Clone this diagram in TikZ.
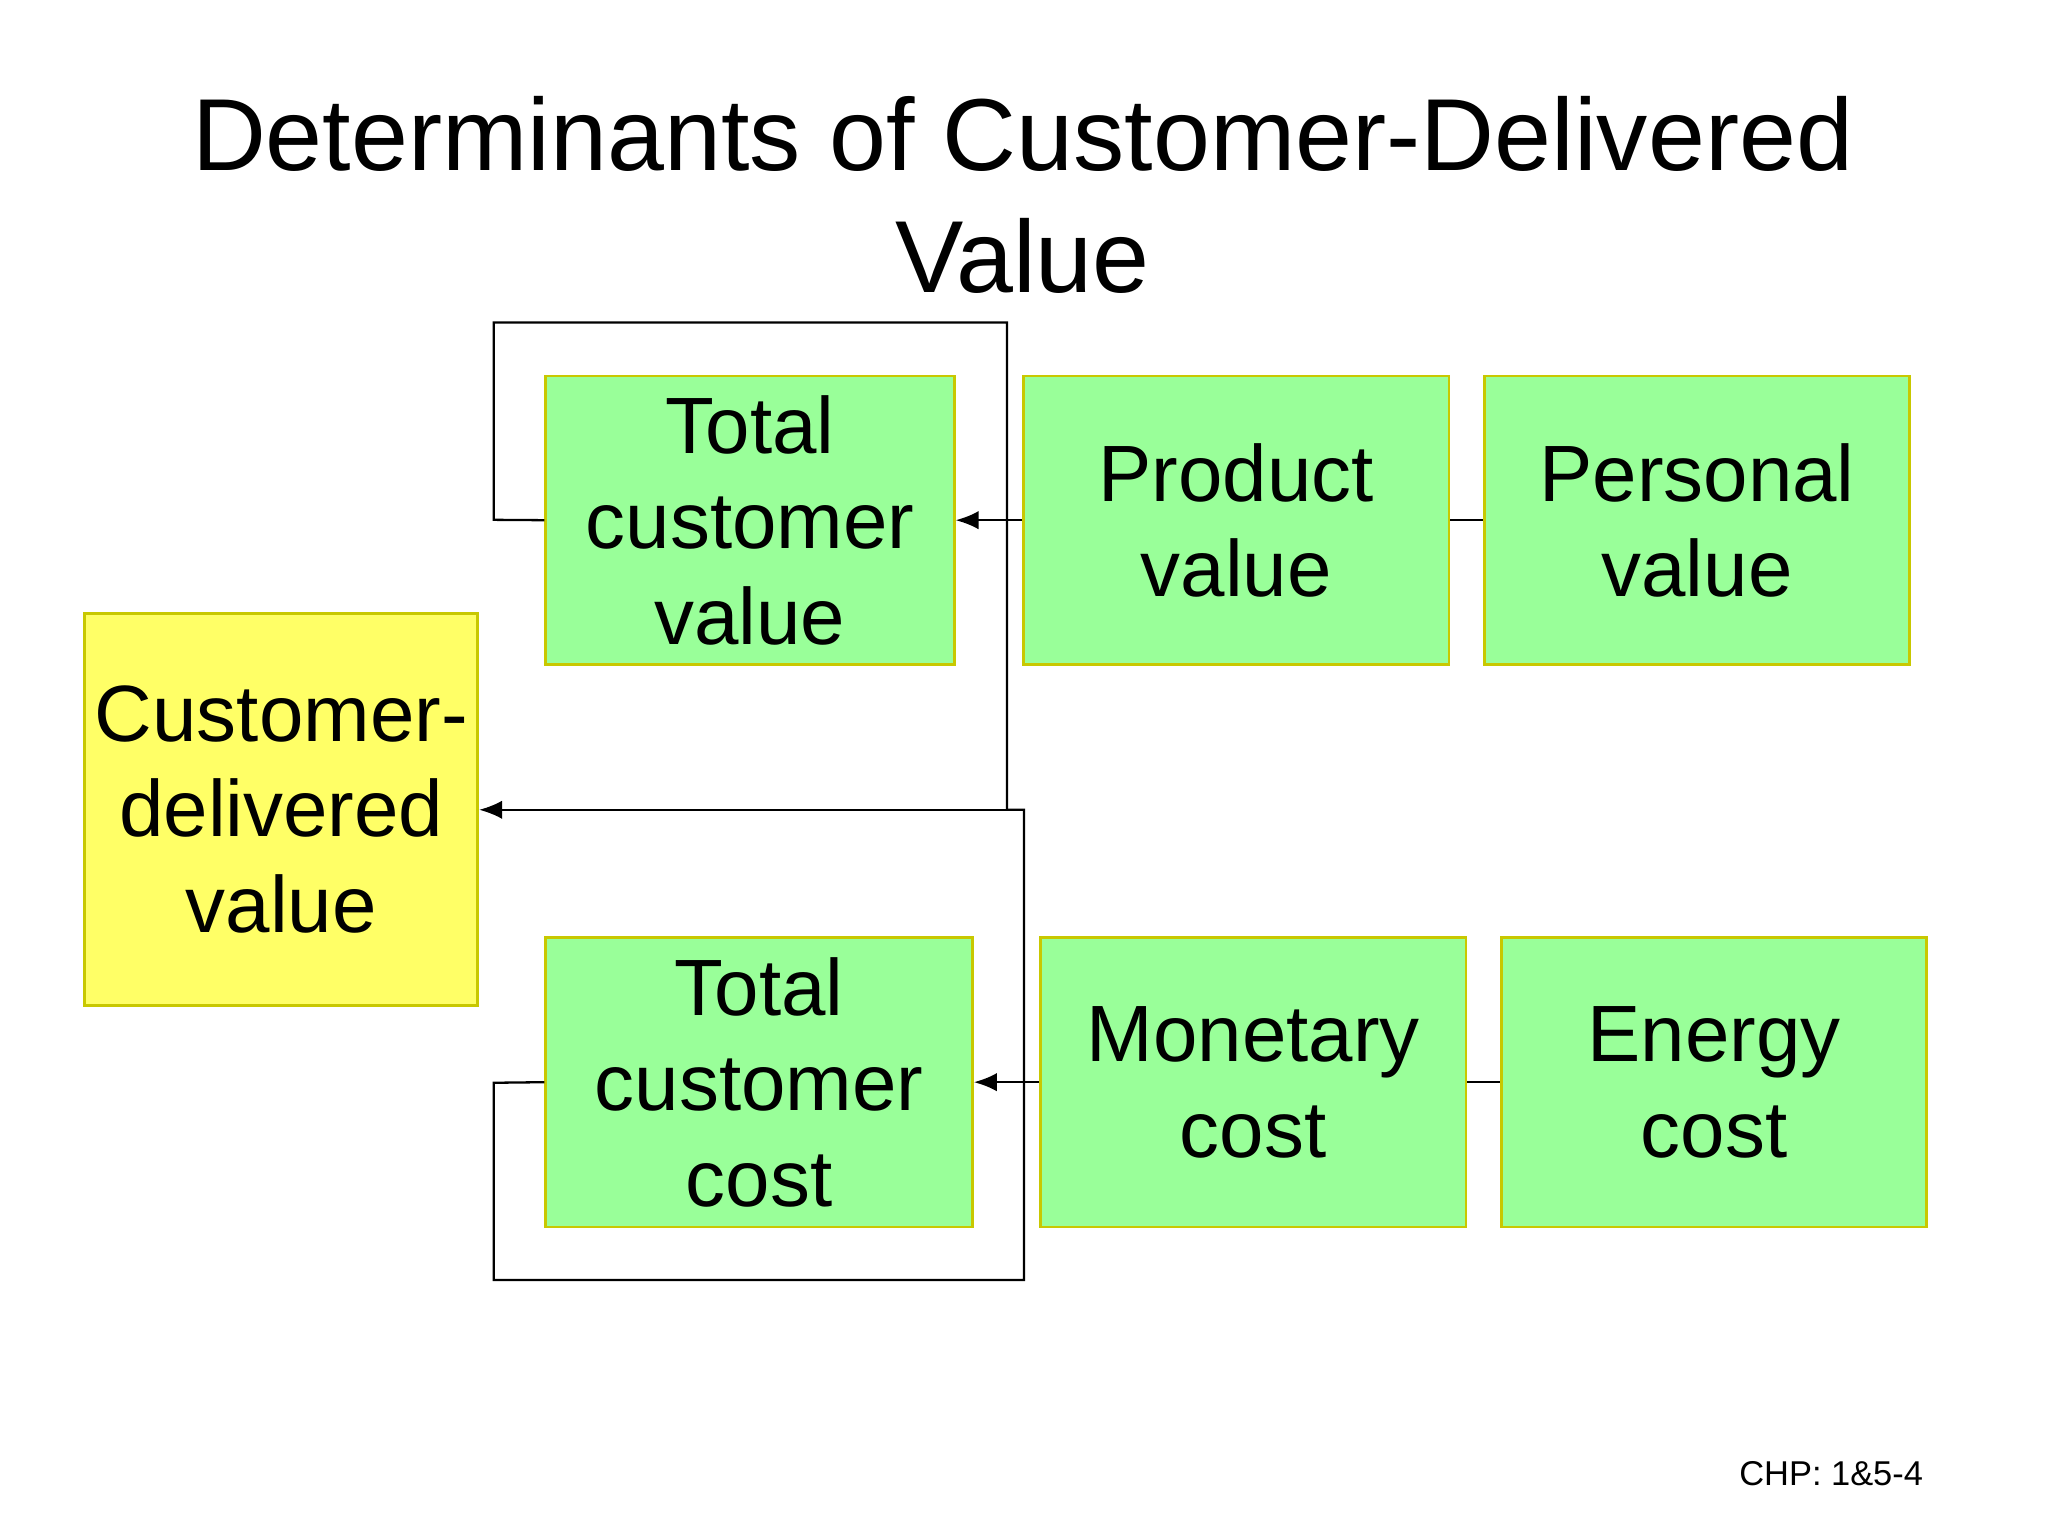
\documentclass[tikz,border=0pt]{standalone}
\usepackage{fontspec}
\setmainfont{Liberation Sans}
\usetikzlibrary{arrows.meta}
\definecolor{gfill}{HTML}{99FF99}
\definecolor{yfill}{HTML}{FFFF66}
\definecolor{bord}{HTML}{C8C800}
\tikzset{
 bx/.style={draw=bord,line width=0.6pt,fill=gfill,inner sep=0pt,align=center,font=\fontsize{17.4}{20.8}\selectfont},
 ln/.style={draw=black,line width=0.5pt},
 arr/.style={ln,-{Latex[length=5pt,width=4pt]}}
}
\newcommand{\bxat}[6]{\node[bx,#6,minimum width={(#3-#2)*0.01cm},minimum height={(#5-#4)*0.01cm}] (#1) at ({(#2+#3)/2*0.01},{-(#4+#5)/2*0.01}) }
\begin{document}
\begin{tikzpicture}
\useasboundingbox (0,0) rectangle (15.68,-11.76);
\fill[white] (0,0) rectangle (15.68,-11.76);
\node[font=\fontsize{22.3}{26.5}\selectfont,align=center] (title) at (7.83,-1.49) {Determinants of Customer-Delivered\\Value};
\bxat{tcv}{418}{731}{288}{509}{}{Total\\customer\\value};
\bxat{pv}{784}{1110}{288}{509}{}{Product\\value};
\bxat{per}{1137}{1463}{288}{509}{}{Personal\\value};
\bxat{cdv}{65}{366}{470}{770}{fill=yfill}{Customer-\\delivered\\value};
\bxat{tcc}{418}{745}{718}{940}{}{Total\\customer\\cost};
\bxat{mon}{797}{1123}{718}{940}{}{Monetary\\cost};
\bxat{en}{1150}{1476}{718}{940}{}{Energy\\cost};
\coordinate (j1) at (7.71,-6.20);
\coordinate (j2) at (7.84,-6.20);
\draw[ln] (tcv.west) -- (3.78,-3.98) -- (3.78,-2.47) -- (7.71,-2.47) -- (j1);
\draw[ln] (tcc.west) -- (3.78,-8.29) -- (3.78,-9.80) -- (7.84,-9.80) -- (j2) -- (j1);
\draw[arr] (j1) -- (cdv.east |- j1);
\draw[arr] (pv.west) -- (tcv.east);
\draw[arr] (mon.west) -- (tcc.east);
\draw[ln] (per.west) -- (pv.east);
\draw[ln] (en.west) -- (mon.east);
\node[font=\fontsize{7.5}{9}\selectfont,anchor=east,inner sep=0pt] (chp) at (14.73,-11.28) {CHP: 1\&5-4};
\end{tikzpicture}
\end{document}
